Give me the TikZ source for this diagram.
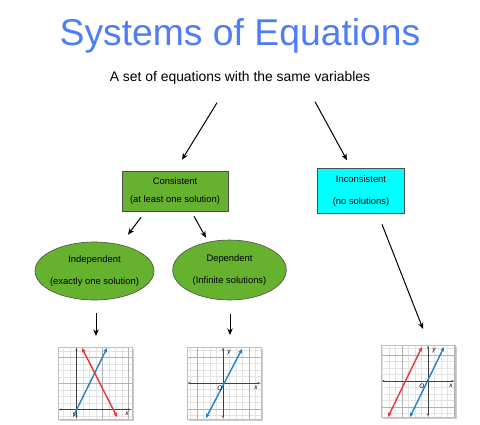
\documentclass[tikz,border=0pt]{standalone}
\usepackage{fontspec}
\setmainfont{Liberation Sans}
\usetikzlibrary{shapes.geometric,arrows.meta,calc}

\definecolor{titleblue}{RGB}{79,125,249}
\definecolor{leafgreen}{RGB}{102,178,46}
\definecolor{skycyan}{RGB}{0,255,255}
\definecolor{lineblue}{RGB}{38,128,200}
\definecolor{linered}{RGB}{232,52,62}

\begin{document}
\begin{tikzpicture}[x=1pt,y=-1pt,
  arr/.style={-{Stealth[length=6.5pt,width=5.5pt]},line width=1pt},
  sysbox/.style={rectangle,draw=black!70,line width=0.6pt,align=center,
    font=\fontsize{9.4}{18.5}\selectfont},
  sysoval/.style={ellipse,draw=black!70,line width=0.6pt,fill=leafgreen,
    align=center,font=\fontsize{9.4}{22}\selectfont},
  finegrid/.style={gray!22,line width=0.4pt},
  majorgrid/.style={gray!60,line width=0.6pt},
  axisline/.style={black!75,line width=0.6pt,
    {Stealth[length=2.5pt,width=2pt]}-{Stealth[length=2.5pt,width=2pt]}},
  solline/.style={line width=1.4pt,
    {Stealth[length=4.5pt,width=4pt]}-{Stealth[length=4.5pt,width=4pt]}},
  axislabel/.style={font=\fontsize{6.5}{7}\selectfont\itshape,inner sep=0pt}]
\useasboundingbox (0,0) rectangle (480,424);

%: \gridpanel{<corner>}{<y-axis x>}{<x-axis y>}
\newcommand{\gridpanel}[3]{%
\begin{scope}[shift={#1}]
  \fill[gray!40] (2,2) rectangle (76,74);
  \begin{scope}
    \clip (0,0) rectangle (74,72);
    \fill[white] (0,0) rectangle (74,72);
    \foreach \k in {-12,...,12} {
      \draw[finegrid] ({#2+\k*6.5},0) -- ({#2+\k*6.5},72);
      \draw[finegrid] (0,{#3+\k*6.5}) -- (74,{#3+\k*6.5});}
    \foreach \k in {-3,...,3} {
      \draw[majorgrid] ({#2+\k*26},0) -- ({#2+\k*26},72);
      \draw[majorgrid] (0,{#3+\k*26}) -- (74,{#3+\k*26});}
  \end{scope}
  \draw[gray!50,line width=0.4pt] (0,0) rectangle (74,72);
  \draw[axisline] (#2,1) -- (#2,71);
  \draw[axisline] (1,#3) -- (73,#3);
\end{scope}}

% headings
\node[anchor=base,text=titleblue,font=\fontsize{37.3}{42}\selectfont] (title)
  at (240,45.5) {Systems of Equations};
\node[anchor=base,font=\fontsize{13.9}{16}\selectfont] (sub)
  at (240,81.7) {A set of equations with the same variables};

% kinds of systems
\node[sysbox,fill=leafgreen,minimum width=106pt,minimum height=40pt] (cons)
  at (175,191) {Consistent\\(at least one solution)};
\node[sysbox,fill=skycyan,minimum width=87pt,minimum height=45pt,
  font=\fontsize{9.4}{22.5}\selectfont] (incons)
  at (361,191) {Inconsistent\\(no solutions)};
\node[sysoval,minimum width=119pt,minimum height=58pt,inner xsep=-2.5pt] (indep)
  at (94.5,271) {Independent\\(exactly one solution)};
\node[sysoval,minimum width=109pt,minimum height=60pt] (dep)
  at (229.5,270) {Dependent\\(Infinite solutions)};

% graphs
\coordinate (g1) at (95,347);
\coordinate (g2) at (224,347);
\coordinate (g3) at (418,345);

\gridpanel{(58,347)}{18.5}{62.5}
\begin{scope}[shift={(58,347)}]
  \draw[solline,lineblue] (15,70) -- (49,1);
  \draw[solline,linered] (24,1) -- (59,70);
  \node[axislabel] (g1x) at (69,67) {x};
\end{scope}

\gridpanel{(187,347)}{36}{36}
\begin{scope}[shift={(187,347)}]
  \draw[solline,lineblue] (19,71) -- (55,2);
  \node[axislabel] (g2o) at (33,41) {O};
  \node[axislabel] (g2y) at (42,5) {y};
  \node[axislabel] (g2x) at (69,41) {x};
\end{scope}

\gridpanel{(381,345)}{47}{36}
\begin{scope}[shift={(381,345)}]
  \draw[solline,linered] (7,72) -- (41,2);
  \draw[solline,lineblue] (29,72) -- (63,2);
  \node[axislabel] (g3o) at (41,41) {O};
  \node[axislabel] (g3y) at (53,5) {y};
  \node[axislabel] (g3x) at (70,41) {x};
\end{scope}

% arrows
\draw[arr] ($(sub.base)+(-23,21)$) -- ($(cons.north)+(7,-11)$);
\draw[arr] ($(sub.base)+(75,20)$) -- ($(incons.north)+(-14,-8)$);
\draw[arr] ($(cons.south)+(-34,6)$) -- ($(indep.north)+(33.5,-7)$);
\draw[arr] ($(cons.south)+(19,5)$) -- ($(dep.north)+(-23.5,-2)$);
\draw[arr] ($(indep.south)+(1.5,13)$) -- ($(g1)+(1,-11)$);
\draw[arr] ($(dep.south)+(0.5,14)$) -- ($(g2)+(6,-12)$);
\draw[arr] ($(incons.south)+(21,10.5)$) -- ($(g3)+(5,-16)$);
\end{tikzpicture}
\end{document}
